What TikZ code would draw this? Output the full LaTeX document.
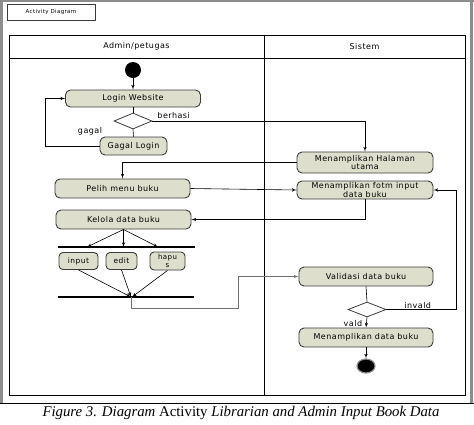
\documentclass[tikz,border=0pt]{standalone}
\usepackage{fontspec}
\setmainfont{Liberation Serif}
\newfontfamily\dgfont[LetterSpace=6]{DejaVu Sans}
\usepackage{tikz}
\usetikzlibrary{positioning}
\usetikzlibrary{arrows,shapes.geometric}
\definecolor{ActFill}{RGB}{221,223,204}
\definecolor{ActLine}{RGB}{60,60,60}
\definecolor{FrameGray}{RGB}{140,140,140}

\begin{document}
\begin{tikzpicture}[x=1pt, y=-1pt,
	act/.style={rectangle, rounded corners=5pt, draw=ActLine, fill=ActFill, line width=0.9pt,
		inner sep=0pt, align=center, font=\dgfont\fontsize{8}{8.5}\selectfont},
	small/.style={rectangle, rounded corners=4pt, draw=ActLine, fill=ActFill, line width=0.9pt,
		inner sep=0pt, align=center, font=\dgfont\fontsize{7.5}{8}\selectfont},
	decision/.style={diamond, draw=ActLine, fill=white, line width=0.8pt, inner sep=0pt},
	bar/.style={line width=2.6pt, black},
	post/.style={->, draw, >=latex', line width=0.6pt},
	line/.style={draw, line width=0.6pt},
	lbl/.style={inner sep=1pt, font=\dgfont\fontsize{8}{9}\selectfont},
	lane/.style={draw, line width=0.8pt}]
	
	\useasboundingbox (0,0) rectangle (474,424);
	
	% Frame of the figure
	\draw[FrameGray, line width=3pt] (1.5,0) -- (1.5,403);
	\draw[FrameGray, line width=2pt] (0,1) -- (474,1);
	\draw[FrameGray, line width=2.5pt] (471.5,0) -- (471.5,403);
	\draw[black, line width=0.8pt] (0,403) -- (474,403);
	
	% Title
	\node[draw=ActLine, line width=1pt, minimum width=88pt, minimum height=16pt, inner sep=0pt,
		font=\dgfont\fontsize{5.5}{6}\selectfont] (title) at (51,12) {Activity Diagram};
	
	% Swimlanes
	\draw[lane] (9,35) rectangle (465,395);
	\draw[lane] (9,58) -- (465,58);
	\draw[lane] (264,35) -- (264,395);
	\node[lbl] (admin) at (136.5,46.5) {Admin/petugas};
	\node[lbl] (sistem) at (364.5,46.5) {Sistem};
	
	% Admin/petugas
	\node[circle, fill=black, minimum size=16pt, inner sep=0pt] (start) at (133,70) {};
	\node[act, minimum width=135pt, minimum height=17pt] (login) at (133,98.5) {Login Website};
	\node[decision, minimum width=38pt, minimum height=16pt] (d1) at (133,121) {};
	\node[act, minimum width=67pt, minimum height=18pt] (gagal) at (133.5,146) {Gagal Login};
	\node[act, minimum width=135pt, minimum height=19pt] (pelih) at (122.5,188.5) {Pelih menu buku};
	\node[act, minimum width=135pt, minimum height=19pt] (kelola) at (123.5,219.5) {Kelola data buku};
	\node[small, minimum width=39pt, minimum height=17pt] (input) at (78.5,261) {input};
	\node[small, minimum width=31pt, minimum height=17pt] (edit) at (121.5,261) {edit};
	\node[small, minimum width=35pt, minimum height=18pt, font=\dgfont\fontsize{7}{8}\selectfont] (hapus) at (167.5,261) {hapu\\s};
	
	% Sistem
	\node[act, minimum width=136pt, minimum height=21pt] (halaman) at (365,162.5) {Menamplikan Halaman\\utama};
	\node[act, minimum width=136pt, minimum height=18pt] (form) at (365,190) {Menamplikan fotm input\\data buku};
	\node[act, minimum width=134pt, minimum height=19pt] (validasi) at (366,276.5) {Validasi data buku};
	\node[decision, minimum width=38pt, minimum height=15pt] (d2) at (367,309.5) {};
	\node[act, minimum width=134pt, minimum height=19pt] (tampil) at (366,337.5) {Menamplikan data buku};
	\node[ellipse, fill=black, draw=FrameGray, line width=1.2pt, minimum width=18pt, minimum height=14pt, inner sep=0pt] (end) at (366,366) {};
	
	% Fork and join bars
	\coordinate (f1) at (58,247);
	\coordinate (f2) at (195,247);
	\coordinate (j1) at (58,297);
	\coordinate (j2) at (194,297);
	\coordinate (jm) at (131,297);
	\draw[bar] (f1) -- (f2);
	\draw[bar] (j1) -- (j2);
	
	% Flow
	\path[post] (start) to (login.north);
	\path[line] (login.south) to (d1.north);
	\path[line] (d1.south) to (gagal.north);
	\path[post] (d1.east) -| node[lbl, pos=0.05, above=1pt] (berhasil) {berhasi} (halaman.north);
	\node[lbl] (gagallbl) at (90,131) {gagal};
	\path[post] (gagal.west) -- (45,146) |- (login.west);
	\path[post] (halaman.west) -| (pelih.north);
	\path[post] (pelih.east) to (form.west);
	\path[post] (form.south) |- (kelola.east);
	\path[post] (kelola.south) to (87,247);
	\path[post] (kelola.south) to (123.5,247);
	\path[post] (kelola.south) to (158,247);
	\path[post] (input.south) to (jm);
	\path[post] (edit.south) to (jm);
	\path[post] (hapus.south) to ([xshift=1pt]jm);
	\path[post, draw=FrameGray!80!black] (jm) -- (131,308) -- (238,308) |- (validasi.west);
	\path[line] (validasi.south) to (d2.north);
	\path[post] (d2.east) -- node[lbl, pos=0.45, above=0pt] (invalid) {invald} (456,309.5) |- (form.east);
	\path[post] (d2.south) to node[lbl, left=3pt, pos=0.6] (valid) {vald} (tampil.north);
	\path[post] (tampil.south) to (end.north);
	
	% Caption
	\node[font=\fontsize{14.8}{16}\selectfont, inner sep=0pt] (caption) at (241,413)
		{\textit{Figure 3. Diagram} Activity \textit{Librarian and Admin Input Book Data}};
\end{tikzpicture}
\end{document}
